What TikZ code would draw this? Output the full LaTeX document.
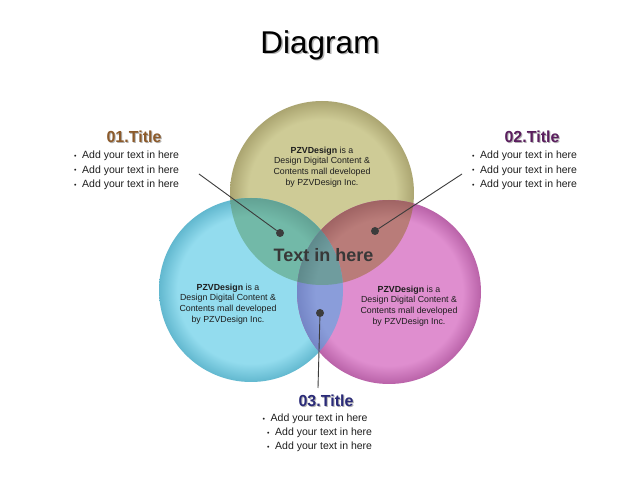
\documentclass[tikz,border=0pt]{standalone}
\usepackage{fontspec}
\setmainfont{Liberation Sans}
\definecolor{topin}{HTML}{CECB96}
\definecolor{topout}{HTML}{ABA571}
\definecolor{leftin}{HTML}{93DCEE}
\definecolor{leftout}{HTML}{62B8CF}
\definecolor{rightin}{HTML}{DF8ECF}
\definecolor{rightout}{HTML}{B962A8}
\definecolor{tlin}{HTML}{72B9A8}
\definecolor{tlout}{HTML}{62A294}
\definecolor{trin}{HTML}{B97C79}
\definecolor{trout}{HTML}{A06464}
\definecolor{lrin}{HTML}{8A9DDA}
\definecolor{lrout}{HTML}{7586C6}
\definecolor{trin3}{HTML}{6F9C9E}
\definecolor{trout3}{HTML}{5F8A8C}
\definecolor{dotc}{HTML}{3C3C3C}
\definecolor{t1c}{HTML}{8C5A2A}
\definecolor{t2c}{HTML}{5A1E5E}
\definecolor{t3c}{HTML}{2A2A78}
\definecolor{txtc}{HTML}{1E1E1E}
\pgfdeclareradialshading{topsh}{\pgfpoint{0bp}{0bp}}{color(0bp)=(topin); color(20bp)=(topin); color(25bp)=(topout); color(50bp)=(topout)}
\pgfdeclareradialshading{leftsh}{\pgfpoint{0bp}{0bp}}{color(0bp)=(leftin); color(20bp)=(leftin); color(25bp)=(leftout); color(50bp)=(leftout)}
\pgfdeclareradialshading{rightsh}{\pgfpoint{0bp}{0bp}}{color(0bp)=(rightin); color(20bp)=(rightin); color(25bp)=(rightout); color(50bp)=(rightout)}
\pgfdeclareradialshading{tlsh}{\pgfpoint{0bp}{0bp}}{color(0bp)=(tlin); color(20bp)=(tlin); color(25bp)=(tlout); color(50bp)=(tlout)}
\pgfdeclareradialshading{trsh}{\pgfpoint{0bp}{0bp}}{color(0bp)=(trin); color(20bp)=(trin); color(25bp)=(trout); color(50bp)=(trout)}
\pgfdeclareradialshading{lrsh}{\pgfpoint{0bp}{0bp}}{color(0bp)=(lrin); color(20bp)=(lrin); color(25bp)=(lrout); color(50bp)=(lrout)}
\pgfdeclareradialshading{triplesh}{\pgfpoint{0bp}{0bp}}{color(0bp)=(trin3); color(20bp)=(trin3); color(25bp)=(trout3); color(50bp)=(trout3)}
\tikzset{
  dotn/.style={circle,fill=dotc,inner sep=0pt,minimum size=8pt},
  conn/.style={draw=dotc,line width=0.9pt},
  ctext/.style={align=center,font=\fontsize{8.8}{10.8}\selectfont,text=txtc,inner sep=0pt},
  bul/.style={anchor=west,font=\fontsize{10.5}{12}\selectfont,text=txtc,inner sep=0pt},
  ttl/.style={font=\fontsize{16}{18}\selectfont\bfseries,inner sep=0pt},
  shd/.style={text=black!30}
}
\newcommand{\bt}{\makebox[8pt][l]{\fontsize{7}{7}\selectfont\raisebox{0.6pt}{•}}Add your text in here}
\begin{document}
\begin{tikzpicture}[x=1pt,y=-1pt]
\useasboundingbox (0,0) rectangle (638,478);
\fill[white] (0,0) rectangle (638,478);
\coordinate (T) at (322,193);
\coordinate (L) at (251,290);
\coordinate (R) at (389,292);
\def\rr{92pt}
% circles
\shade[shading=topsh] (T) circle[radius=\rr];
\shade[shading=leftsh] (L) circle[radius=\rr];
\shade[shading=rightsh] (R) circle[radius=\rr];
\begin{scope}
  \clip (T) circle[radius=\rr];
  \shade[shading=tlsh] (L) circle[radius=\rr];
\end{scope}
\begin{scope}
  \clip (T) circle[radius=\rr];
  \shade[shading=trsh] (R) circle[radius=\rr];
\end{scope}
\begin{scope}
  \clip (L) circle[radius=\rr];
  \shade[shading=lrsh] (R) circle[radius=\rr];
\end{scope}
\begin{scope}
  \clip (L) circle[radius=\rr];
  \clip (T) circle[radius=\rr];
  \shade[shading=triplesh] (R) circle[radius=\rr];
\end{scope}
% title
\node[font=\fontsize{31.5}{34}\selectfont,shd] at (321.5,46.5) {Diagram};
\node[font=\fontsize{31.5}{34}\selectfont,text=black] (title) at (320,45) {Diagram};
% circle texts
\node[ctext] (ct) at (322,167) {\textbf{PZVDesign} is a\\Design Digital Content \&\\Contents mall developed\\by PZVDesign Inc.};
\node[ctext] (cl) at (228,304) {\textbf{PZVDesign} is a\\Design Digital Content \&\\Contents mall developed\\by PZVDesign Inc.};
\node[ctext] (cr) at (409,306) {\textbf{PZVDesign} is a\\Design Digital Content \&\\Contents mall developed\\by PZVDesign Inc.};
\node[font=\fontsize{18}{20}\selectfont\bfseries,text=black!78,inner sep=0pt] (center) at (323.5,255) {Text in here};
% dots and connectors
\node[dotn] (d1) at (280,233) {};
\node[dotn] (d2) at (375,231) {};
\node[dotn] (d3) at (320,313) {};
\coordinate (e1) at (199,174);
\coordinate (e2) at (462,174);
\coordinate (e3) at (318,388);
\draw[conn] (e1) -- (d1);
\draw[conn] (e2) -- (d2);
\draw[conn] (e3) -- (d3);
% titles
\node[ttl,shd] at (135,138) {01.Title};
\node[ttl,text=t1c] (t1) at (134,137) {01.Title};
\node[ttl,shd] at (533,138) {02.Title};
\node[ttl,text=t2c] (t2) at (532,137) {02.Title};
\node[ttl,shd] at (327,402) {03.Title};
\node[ttl,text=t3c] (t3) at (326,401) {03.Title};
% bullets
\node[bul] (l1) at (74,156) {\bt};
\node[bul] (l2) at (74,170.5) {\bt};
\node[bul] (l3) at (74,185) {\bt};
\node[bul] (r1) at (472,156) {\bt};
\node[bul] (r2) at (472,170.5) {\bt};
\node[bul] (r3) at (472,185) {\bt};
\node[bul] (b1) at (262.5,419) {\bt};
\node[bul] (b2) at (267,433) {\bt};
\node[bul] (b3) at (267,447) {\bt};
\end{tikzpicture}
\end{document}
